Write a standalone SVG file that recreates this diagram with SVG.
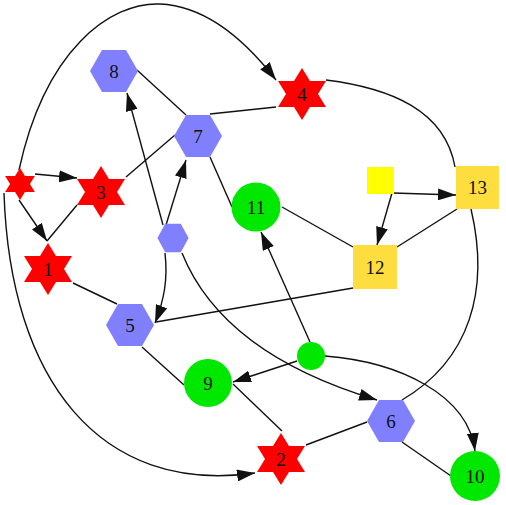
<svg xmlns="http://www.w3.org/2000/svg" xmlns:xlink="http://www.w3.org/1999/xlink" width="506" height="505" viewBox="0 0 506 505">
<style>
.e{fill:none;stroke:#111;stroke-width:1.4}
.a{marker-end:url(#arr)}
.red{fill:#ff0000}
.blue{fill:#8080ff}
.green{fill:#00e800}
.gold{fill:#fdde3e}
.yel{fill:#ffff00}
text{font-family:"Liberation Serif","Times New Roman",serif;font-size:19px;fill:#111;text-anchor:middle}
</style>
<defs>
<marker id="arr" markerUnits="userSpaceOnUse" markerWidth="18" markerHeight="12" refX="18" refY="6" orient="auto" viewBox="0 0 18 12">
<path d="M0,0 L18,6 L0,12 Z" fill="#111"/>
</marker>
<path id="star" d="M0,-26 L8,-13 L24,-13 L16,0 L24,13 L8,13 L0,26 L-8,13 L-24,13 L-16,0 L-24,-13 L-8,-13 Z"/>
<path id="hex" d="M-24,0 L-12,-21 L12,-21 L24,0 L12,21 L-12,21 Z"/>
</defs>
<rect width="506" height="505" fill="#ffffff"/>
<g id="edges">
<path class="e a" d="M35,174 L77,178"/>
<path class="e a" d="M19,200 L47,241"/>
<path class="e a" d="M19,170 C45,50 110,2 160,4 C205,6 245,40 276,80"/>
<path class="e a" d="M4,193 C10,380 100,495 255,473"/>
<path class="e" d="M47,241 L77,205"/>
<path class="e" d="M126,177 L175,135"/>
<path class="e" d="M137,70 L186,115"/>
<path class="e" d="M210,114 L276,107"/>
<path class="e" d="M210,157 L232,207"/>
<path class="e a" d="M163,225 L127,93"/>
<path class="e a" d="M166,225 L186,160"/>
<path class="e a" d="M165,253 C168,280 164,300 155,323"/>
<path class="e a" d="M182,253 C205,310 260,365 377,400"/>
<path class="e" d="M73,283 L117,304"/>
<path class="e" d="M156,322 L353,288"/>
<path class="e" d="M142,347 L184,385"/>
<path class="e" d="M233,384 L282,431"/>
<path class="e a" d="M297,361 L233,382"/>
<path class="e a" d="M310,342 L261,232"/>
<path class="e" d="M306,445 L367,422"/>
<path class="e" d="M402,442 L451,476"/>
<path class="e a" d="M325,356 C400,362 468,395 475,451"/>
<path class="e" d="M471,209 C490,290 470,360 402,400"/>
<path class="e" d="M326,80 C390,88 445,110 455,167"/>
<path class="e a" d="M393,193 L456,195"/>
<path class="e a" d="M392,193 L377,245"/>
<path class="e" d="M282,207 L353,247"/>
<path class="e" d="M397,247 L457,209"/>
</g>
<g id="node-s"><use xlink:href="#star" class="red" transform="translate(20,184) scale(0.62)"/></g>
<g id="node-3"><use xlink:href="#star" class="red" transform="translate(101,192)"/><text x="101" y="198.5">3</text></g>
<g id="node-1"><use xlink:href="#star" class="red" transform="translate(48,269)"/><text x="48" y="275.5">1</text></g>
<g id="node-4"><use xlink:href="#star" class="red" transform="translate(302,94)"/><text x="302" y="100.5">4</text></g>
<g id="node-2"><use xlink:href="#star" class="red" transform="translate(281,459)"/><text x="281" y="465.5">2</text></g>
<g id="node-8"><use xlink:href="#hex" class="blue" transform="translate(114,71)"/><text x="114" y="77.5">8</text></g>
<g id="node-7"><use xlink:href="#hex" class="blue" transform="translate(198,136)"/><text x="198" y="142.5">7</text></g>
<g id="node-sh"><use xlink:href="#hex" class="blue" transform="translate(173,238) scale(0.65,0.68)"/></g>
<g id="node-5"><use xlink:href="#hex" class="blue" transform="translate(130,325)"/><text x="130" y="331.5">5</text></g>
<g id="node-6"><use xlink:href="#hex" class="blue" transform="translate(391,421)"/><text x="391" y="427.5">6</text></g>
<g id="node-11"><circle cx="256" cy="207" r="24.5" class="green"/><text x="256" y="213.5">11</text></g>
<g id="node-9"><circle cx="208" cy="383" r="24" class="green"/><text x="208" y="389.5">9</text></g>
<g id="node-10"><circle cx="475" cy="476" r="25" class="green"/><text x="475" y="482.5">10</text></g>
<g id="node-sg"><circle cx="311" cy="356" r="14" class="green"/></g>
<g id="node-12"><rect x="353" y="245" width="44" height="44" class="gold"/><text x="375" y="273.5">12</text></g>
<g id="node-13"><rect x="456" y="166" width="43" height="43" class="gold"/><text x="477.5" y="194">13</text></g>
<g id="node-sy"><rect x="367" y="167" width="27" height="27" class="yel"/></g>
</svg>
